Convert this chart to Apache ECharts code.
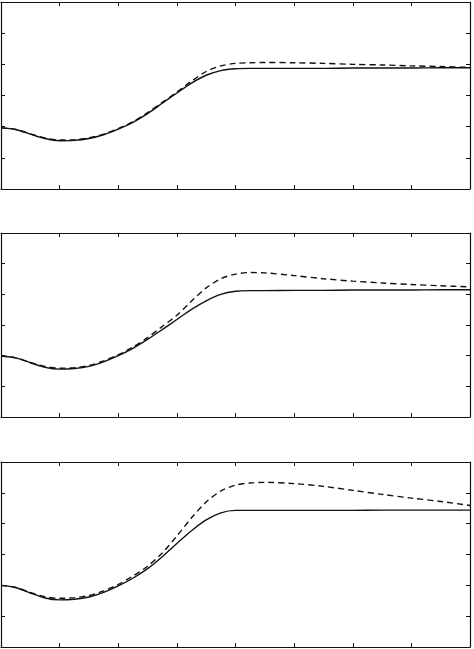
<!DOCTYPE html>
<html>
<head>
<meta charset="utf-8">
<script src="https://cdn.jsdelivr.net/npm/echarts@6/dist/echarts.min.js"></script>
<style>
html,body{margin:0;padding:0;background:#fff;}
#chart{width:474px;height:649px;}
</style>
</head>
<body>
<div id="chart"></div>
<script>
// x positions (8 tick intervals)
var xs = [0, 0.25, 0.5, 0.75, 1.0, 1.25, 1.5, 1.75, 2.0, 2.25, 2.5, 2.75, 3.0, 3.25, 3.5, 3.75, 4.0, 4.25, 4.5, 5.0, 5.5, 6.0, 6.5, 7.0, 7.5, 8.0];

// Panel 1
var p1Solid  = [1.96, 1.91, 1.76, 1.62, 1.55, 1.56, 1.62, 1.74, 1.92, 2.14, 2.42, 2.75, 3.08, 3.40, 3.65, 3.80, 3.86, 3.87, 3.87, 3.87, 3.87, 3.88, 3.88, 3.88, 3.89, 3.89];
var p1Dashed = [1.96, 1.91, 1.77, 1.64, 1.57, 1.58, 1.64, 1.76, 1.94, 2.16, 2.45, 2.78, 3.11, 3.46, 3.77, 3.95, 4.03, 4.05, 4.06, 4.05, 4.03, 4.00, 3.98, 3.95, 3.93, 3.90];

// Panel 2
var p2Solid  = [1.99, 1.93, 1.77, 1.62, 1.56, 1.58, 1.65, 1.80, 2.00, 2.24, 2.53, 2.85, 3.18, 3.51, 3.79, 4.00, 4.10, 4.12, 4.12, 4.13, 4.13, 4.14, 4.14, 4.14, 4.15, 4.15];
var p2Dashed = [1.99, 1.93, 1.78, 1.65, 1.59, 1.61, 1.68, 1.83, 2.03, 2.28, 2.59, 2.95, 3.32, 3.78, 4.21, 4.51, 4.66, 4.71, 4.70, 4.61, 4.51, 4.43, 4.37, 4.32, 4.28, 4.24];

// Panel 3
var p3Solid  = [2.00, 1.93, 1.75, 1.59, 1.53, 1.55, 1.62, 1.77, 1.98, 2.23, 2.54, 2.93, 3.36, 3.77, 4.12, 4.35, 4.43, 4.43, 4.43, 4.43, 4.43, 4.43, 4.44, 4.44, 4.44, 4.44];
var p3Dashed = [2.00, 1.93, 1.77, 1.63, 1.58, 1.60, 1.67, 1.82, 2.03, 2.30, 2.62, 3.05, 3.60, 4.19, 4.70, 5.06, 5.25, 5.32, 5.34, 5.30, 5.21, 5.08, 4.95, 4.83, 4.72, 4.59];

var panels = [
  {solid: p1Solid, dashed: p1Dashed, top: 2,   height: 187},
  {solid: p2Solid, dashed: p2Dashed, top: 233, height: 184},
  {solid: p3Solid, dashed: p3Dashed, top: 462, height: 185}
];

function pairs(ys){ return xs.map(function(x,i){ return [x, ys[i]]; }); }

var grids = [], xAxes = [], yAxes = [], series = [];
var axLine = {show: true, onZero: false, lineStyle: {color: '#111', width: 1.2}};
var tick = {show: true, inside: true, length: 4, lineStyle: {color: '#111', width: 1}};

panels.forEach(function(p, i){
  grids.push({left: 1, width: 469, top: p.top, height: p.height, show: false});
  var xa = {type: 'value', gridIndex: i, min: 0, max: 8, interval: 1,
            axisLine: axLine, axisTick: tick, axisLabel: {show: false}, splitLine: {show: false}};
  xAxes.push(Object.assign({}, xa, {position: 'bottom'}));
  xAxes.push(Object.assign({}, xa, {position: 'top'}));
  var ya = {type: 'value', gridIndex: i, min: 0, max: 6, interval: 1,
            axisLine: axLine, axisTick: tick, axisLabel: {show: false}, splitLine: {show: false}};
  yAxes.push(Object.assign({}, ya, {position: 'left'}));
  yAxes.push(Object.assign({}, ya, {position: 'right'}));
  series.push({type: 'line', xAxisIndex: 2*i, yAxisIndex: 2*i, data: pairs(p.solid),
               smooth: 0.3, showSymbol: false, lineStyle: {color: '#111', width: 1.4}});
  series.push({type: 'line', xAxisIndex: 2*i, yAxisIndex: 2*i, data: pairs(p.dashed),
               smooth: 0.3, showSymbol: false, lineStyle: {color: '#111', width: 1.4, type: [6, 4]}});
});

var chart = echarts.init(document.getElementById('chart'), null, {renderer: 'canvas'});
chart.setOption({
  animation: false,
  backgroundColor: '#fff',
  grid: grids,
  xAxis: xAxes,
  yAxis: yAxes,
  series: series
});
</script>
</body>
</html>
